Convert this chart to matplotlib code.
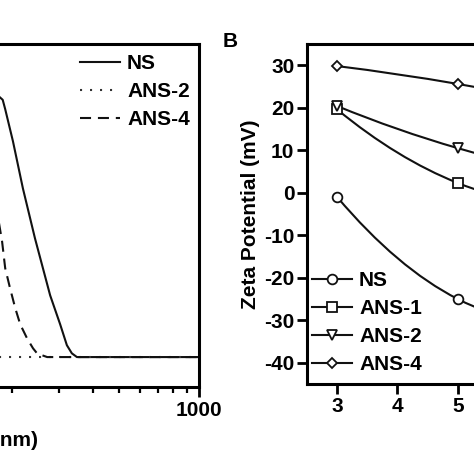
import numpy as np
import matplotlib
matplotlib.use("Agg")
import matplotlib.pyplot as plt
from matplotlib.path import Path
from matplotlib.patches import PathPatch
from matplotlib.lines import Line2D
from matplotlib.ticker import NullFormatter, LogLocator

plt.rcParams['font.family'] = ['Liberation Sans', 'DejaVu Sans']
plt.rcParams['font.weight'] = 'bold'
plt.rcParams['axes.unicode_minus'] = False

# ---- panel A data (size in nm, intensity a.u.) ----
ns_size = [100, 150, 178, 184, 188, 201, 219, 243, 277, 302, 320, 334, 349, 1000]
ns_int = [83.6, 83.6, 83.6, 82.5, 79.5, 69.2, 54.1, 38.1, 19.8, 10.5, 3.8, 1.2, 0, 0]
ans2_size = [100, 140, 165, 175, 1000]
ans2_int = [83.0, 40.0, 8.0, 0, 0]
ans4_size = [120, 165, 183, 188, 196, 205, 214, 227, 239, 249, 258, 270, 1000]
ans4_int = [83.0, 60.0, 37.1, 28.5, 22.1, 15.7, 10.5, 6.0, 2.8, 0.9, 0.6, 0, 0]

# ---- panel B data (pH, zeta potential mV) ----
ph = [3, 5, 7]
zeta_ns = [-1.0, -25.0, -30.0]
zeta_ans1 = [19.6, 2.3, -3.0]
zeta_ans2 = [20.4, 10.5, 4.0]
zeta_ans4 = [29.8, 25.6, 20.0]

FS = 15
LW_SP = 2.2


def smooth_path(xs, ys):
    # cubic curve through the points, drawn as bezier segments
    xs = np.asarray(xs, float)
    ys = np.asarray(ys, float)
    n = len(xs)
    h = np.diff(xs)
    s = np.diff(ys) / h
    m = np.zeros(n)
    for i in range(1, n - 1):
        m[i] = (s[i - 1] * h[i] + s[i] * h[i - 1]) / (h[i - 1] + h[i])
    m[0] = s[0] - (s[1] - s[0]) * h[0] / (h[0] + h[1])
    m[-1] = s[-1] + (s[-1] - s[-2]) * h[-1] / (h[-1] + h[-2])
    verts = [(xs[0], ys[0])]
    codes = [Path.MOVETO]
    for i in range(n - 1):
        d = h[i] / 3.0
        verts += [(xs[i] + d, ys[i] + m[i] * d),
                  (xs[i + 1] - d, ys[i + 1] - m[i + 1] * d),
                  (xs[i + 1], ys[i + 1])]
        codes += [Path.CURVE4] * 3
    return Path(verts, codes)


fig = plt.figure(figsize=(4.74, 4.74), dpi=100)

# ================= panel A =================
axA = fig.add_axes([-68 / 474, 87 / 474, 267 / 474, 343 / 474])
axA.plot(ns_size, ns_int, color='#111111', lw=1.5, ls='-', label='NS')
axA.plot(ans2_size, ans2_int, color='#333333', lw=1.5, ls=(0, (1, 3.8)), label='ANS-2')
axA.plot(ans4_size, ans4_int, color='#111111', lw=1.5, ls=(0, (5.3, 3.3)), label='ANS-4')
axA.set_xscale('log')
axA.set_xlim(100, 1000)
axA.set_ylim(-9.6, 100.4)
axA.set_xticks([1000], ['1000'])
axA.xaxis.set_minor_locator(LogLocator(base=10, subs=np.arange(2, 10)))
axA.xaxis.set_minor_formatter(NullFormatter())
axA.set_yticks([])
axA.tick_params(axis='x', which='major', direction='out', length=7, width=2,
                labelsize=FS, pad=3)
axA.tick_params(axis='x', which='minor', direction='out', length=4.5, width=1.6)
for sp in axA.spines.values():
    sp.set_linewidth(LW_SP)
axA.set_xlabel('Size (nm)', fontsize=FS, fontweight='bold')
axA.xaxis.set_label_coords((38 + 68) / 267, -0.128)
axA.xaxis.label.set_ha('right')
axA.legend(loc='upper left', bbox_to_anchor=(80 / 474, 1 - 54 / 474),
           bbox_transform=fig.transFigure, frameon=False, fontsize=FS,
           handlelength=1.92, handletextpad=0.34, labelspacing=0.43,
           borderpad=0, borderaxespad=0)

# ================= panel B =================
axB = fig.add_axes([307 / 474, 90 / 474, 301.5 / 474, 340 / 474])
series = [(zeta_ns, 'o', 'NS'), (zeta_ans1, 's', 'ANS-1'),
          (zeta_ans2, 'v', 'ANS-2'), (zeta_ans4, 'D', 'ANS-4')]
handles = []
for vals, mk, lab in series:
    axB.add_patch(PathPatch(smooth_path(ph, vals), fill=False, lw=1.5,
                            edgecolor='#111111', zorder=2))
    ms = 5.5 if mk == 'D' else 7
    axB.plot(ph, vals, ls='none', marker=mk, ms=ms, mfc='white',
             mec='#111111', mew=1.3, zorder=3)
    handles.append(Line2D([], [], color='#111111', lw=1.5, marker=mk, ms=ms,
                          mfc='white', mec='#111111', mew=1.3, label=lab))
axB.set_xlim(2.5, 7.5)
axB.set_ylim(-45, 35)
axB.set_xticks([3, 4, 5])
axB.set_yticks([-40, -30, -20, -10, 0, 10, 20, 30])
axB.tick_params(direction='out', length=7, width=2, labelsize=FS, pad=2)
for sp in axB.spines.values():
    sp.set_linewidth(LW_SP)
axB.set_ylabel('Zeta Potential (mV)', fontsize=FS, fontweight='bold', labelpad=3)
axB.legend(handles=handles, loc='upper left', bbox_to_anchor=(312 / 474, 1 - 271 / 474),
           bbox_transform=fig.transFigure, frameon=False, fontsize=FS,
           handlelength=1.92, handletextpad=0.34, labelspacing=0.43,
           borderpad=0, borderaxespad=0)

fig.text(223 / 474, 1 - 47 / 474, 'B', fontsize=15, fontweight='bold',
         ha='left', va='baseline')

fig.savefig('out.png', dpi=100, facecolor='white')
